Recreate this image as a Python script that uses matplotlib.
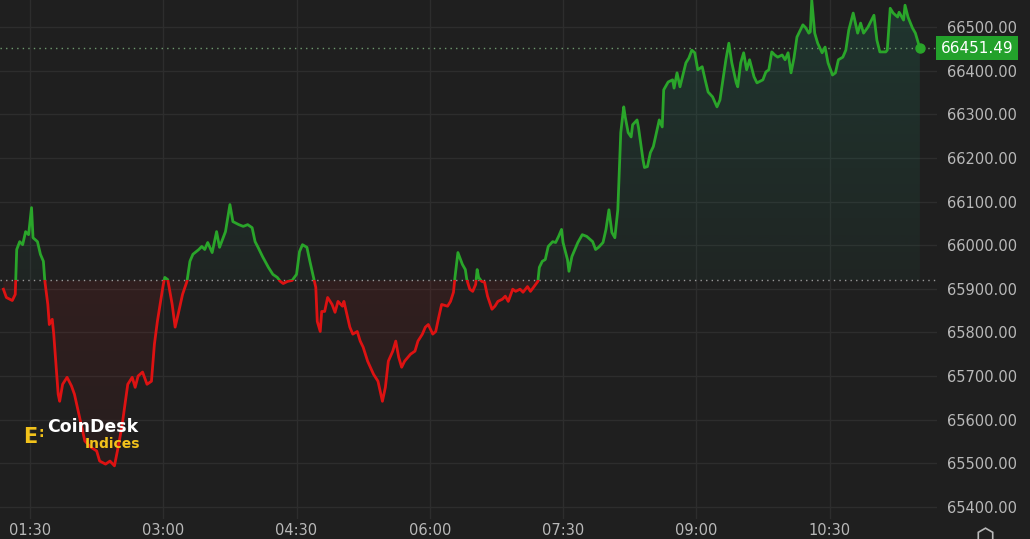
import numpy as np
import matplotlib as mpl
import matplotlib.pyplot as plt
from matplotlib.patches import Rectangle
from matplotlib.path import Path
from matplotlib.ticker import FixedLocator, FuncFormatter

# ── Data: BTC index, minutes since 00:00 and price ─────────────────────────────
minutes = [
    72, 74, 78, 80, 81, 83, 85, 87, 89, 91, 92, 95, 97, 99, 100, 102, 103, 105,
    106, 107, 109, 110, 112, 115, 118, 120, 124, 127, 131, 135, 137, 141, 144,
    147, 149, 152, 156, 159, 161, 163, 166, 169, 172, 174, 176, 180, 181, 183,
    186, 188, 190, 193, 196, 198, 200, 204, 206, 208, 210, 213, 216, 218, 222,
    225, 227, 231, 234, 237, 240, 242, 244, 247, 251, 254, 257, 259, 261, 264,
    267, 270, 272, 274, 277, 279, 281, 283, 284, 286, 287, 289, 291, 294, 296,
    298, 301, 302, 304, 306, 308, 311, 313, 315, 318, 322, 325, 328, 330, 332,
    335, 337, 339, 341, 343, 347, 350, 352, 355, 357, 359, 362, 364, 366, 368,
    372, 374, 376, 377, 379, 382, 384, 385, 387, 389, 391, 392, 393, 395, 397,
    399, 402, 404, 406, 409, 411, 413, 416, 418, 421, 423, 426, 428, 430, 433,
    434, 436, 438, 440, 443, 445, 447, 449, 450, 453, 454, 456, 460, 463, 466,
    470, 472, 474, 477, 479, 481, 483, 485, 487, 489, 491, 492, 494, 496, 497,
    500, 501, 504, 505, 507, 509, 511, 514, 515, 517, 518, 521, 524, 525, 527,
    529, 531, 533, 535, 537, 539, 541, 544, 546, 548, 551, 554, 556, 558, 560,
    562, 564, 567, 568, 570, 572, 574, 576, 579, 581, 585, 587, 589, 591, 593,
    595, 598, 600, 602, 604, 606, 608, 612, 614, 616, 617, 618, 620, 622, 625,
    627, 629, 632, 634, 636, 639, 641, 643, 646, 649, 651, 653, 656, 660, 662,
    664, 668, 669, 671, 673, 676, 677, 680, 681, 683, 686, 688, 691,
]
prices = [
    65899, 65880, 65873, 65887, 65990, 66008, 66001, 66031, 66024, 66086, 66017,
    66008, 65979, 65963, 65917, 65864, 65818, 65830, 65796, 65750, 65658, 65642,
    65681, 65697, 65677, 65658, 65597, 65551, 65537, 65528, 65505, 65498, 65505,
    65494, 65528, 65583, 65681, 65697, 65674, 65700, 65709, 65681, 65688, 65773,
    65825, 65910, 65926, 65921, 65864, 65812, 65841, 65887, 65917, 65963, 65979,
    65990, 65997, 65990, 66006, 65983, 66031, 65995, 66031, 66093, 66054, 66047,
    66043, 66047, 66040, 66008, 65995, 65974, 65949, 65933, 65926, 65917, 65912,
    65917, 65919, 65933, 65985, 66001, 65995, 65963, 65933, 65903, 65825, 65802,
    65848, 65848, 65880, 65864, 65846, 65871, 65860, 65871, 65841, 65812, 65796,
    65802, 65780, 65766, 65734, 65704, 65688, 65642, 65674, 65734, 65757, 65780,
    65743, 65720, 65734, 65750, 65757, 65780, 65796, 65812, 65818, 65796, 65802,
    65834, 65864, 65860, 65871, 65892, 65926, 65983, 65956, 65944, 65921, 65899,
    65894, 65910, 65944, 65926, 65917, 65915, 65883, 65853, 65860, 65871, 65876,
    65883, 65871, 65899, 65894, 65899, 65892, 65905, 65894, 65903, 65917, 65949,
    65963, 65967, 65997, 66008, 66006, 66020, 66036, 66006, 65967, 65940, 65974,
    66006, 66024, 66020, 66008, 65990, 65995, 66006, 66036, 66081, 66029, 66017,
    66081, 66258, 66317, 66294, 66258, 66248, 66276, 66287, 66269, 66196, 66178,
    66180, 66212, 66226, 66271, 66287, 66271, 66356, 66374, 66379, 66360, 66395,
    66363, 66390, 66418, 66429, 66447, 66441, 66402, 66409, 66379, 66351, 66340,
    66317, 66333, 66379, 66425, 66463, 66418, 66372, 66363, 66418, 66441, 66402,
    66425, 66386, 66372, 66379, 66397, 66402, 66443, 66436, 66431, 66436, 66425,
    66441, 66395, 66429, 66477, 66505, 66498, 66486, 66489, 66562, 66486, 66463,
    66441, 66454, 66418, 66390, 66395, 66425, 66431, 66447, 66493, 66532, 66486,
    66509, 66486, 66500, 66527, 66470, 66443, 66443, 66447, 66543, 66532, 66523,
    66534, 66516, 66550, 66523, 66498, 66486, 66451.49,
]
base_price = 65919
last_price = 66451.49
price_ticks = [65400, 65500, 65600, 65700, 65800, 65900, 66000, 66100, 66200,
               66300, 66400, 66500]
time_ticks = [90, 180, 270, 360, 450, 540, 630]

# ── Style ─────────────────────────────────────────────────────────────────────
BG = "#1f1f1f"
GRID = "#2d2d2d"
TXT = "#b8b8b8"
GREEN = "#2aa52a"
RED = "#dd1212"

t = np.array(minutes, dtype=float)
v = np.array(prices, dtype=float)
XMIN, XMAX = 69.7, 702.8
YMIN, YMAX = 65372, 66562

fig = plt.figure(figsize=(10.30, 5.39), dpi=100, facecolor=BG)
ax = fig.add_axes([0.0, 0.037, 0.91, 0.963])
ax.set_facecolor(BG)
for s in ax.spines.values():
    s.set_visible(False)

# grid
ax.set_axisbelow(True)
ax.grid(True, color=GRID, linewidth=1.0)

# gradient fills, clipped to the area between the line and the baseline
def gradient_fill(mask, rgb, a_far, a_near, y0, y1):
    coll = ax.fill_between(t, v, base_price, where=mask, interpolate=True,
                           facecolor="none", edgecolor="none")
    paths = coll.get_paths()
    if not paths:
        return
    clip = Path.make_compound_path(*paths)
    n = 256
    rgba = np.zeros((n, 1, 4))
    rgba[:, 0, :3] = mpl.colors.to_rgb(rgb)
    rgba[:, 0, 3] = np.linspace(a_far, a_near, n)
    im = ax.imshow(rgba, extent=[XMIN, XMAX, y0, y1], origin="lower",
                   aspect="auto", zorder=1, interpolation="bilinear")
    im.set_clip_path(clip, transform=ax.transData)

# green: near line (top) stronger, fading to baseline
gradient_fill(v >= base_price, "#22a07a", 0.05, 0.18, base_price, YMAX)
# red: near baseline stronger, fading downward
gradient_fill(v <= base_price, "#c81818", 0.03, 0.11, YMIN, base_price)

# line, green above the baseline, red below
big = 1e6
for color, y0 in [(GREEN, base_price), (RED, base_price - big)]:
    ln, = ax.plot(t, v, color=color, linewidth=2.0, zorder=3,
                  solid_joinstyle="round")
    ln.set_clip_path(Rectangle((XMIN, y0), XMAX - XMIN, big,
                               transform=ax.transData))

# baseline and last-price dotted lines
ax.axhline(base_price, color="#9a9a9a", linestyle=(0, (1, 3)), linewidth=1.0,
           zorder=2)
ax.axhline(last_price, color="#6f9a6f", linestyle=(0, (1, 3)), linewidth=1.0,
           zorder=2)
ax.plot(t[-1], v[-1], "o", color=GREEN, markersize=6.5, zorder=4)

ax.set_xlim(XMIN, XMAX)
ax.set_ylim(YMIN, YMAX)

# axes ticks
ax.yaxis.tick_right()
ax.yaxis.set_major_locator(FixedLocator(price_ticks))
ax.yaxis.set_major_formatter(FuncFormatter(lambda y, _: f"{y:.2f}"))
ax.xaxis.set_major_locator(FixedLocator(time_ticks))
ax.xaxis.set_major_formatter(
    FuncFormatter(lambda m, _: f"{int(m) // 60:02d}:{int(m) % 60:02d}"))
ax.tick_params(axis="both", length=0, colors=TXT, labelsize=10.5)
ax.tick_params(axis="y", pad=7)
ax.tick_params(axis="x", pad=3)

# last price tag
ax.text(1.004, last_price, f"{last_price:.2f}", transform=ax.get_yaxis_transform(),
        ha="left", va="center", color="white", fontsize=11, zorder=6,
        bbox=dict(boxstyle="square,pad=0.3", fc="#23a12b", ec="none"),
        clip_on=False)

# CoinDesk Indices logo
YEL = "#f2c21b"
fig.text(0.022, 0.190, "E", color=YEL, fontsize=15, fontweight="bold",
         ha="left", va="center")
fig.text(0.037, 0.196, ":", color=YEL, fontsize=10, fontweight="bold",
         ha="left", va="center")
fig.text(0.046, 0.208, "CoinDesk", color="white", fontsize=12.5,
         fontweight="bold", ha="left", va="center")
fig.text(0.082, 0.177, "Indices", color=YEL, fontsize=10, fontweight="bold",
         ha="left", va="center")

# settings icon, bottom right (cut by the edge)
fig.lines.append(mpl.lines.Line2D([0.956], [0.006], marker="h", markersize=12,
                                  markerfacecolor="none", markeredgecolor=TXT,
                                  markeredgewidth=1.2,
                                  transform=fig.transFigure))

fig.savefig("out.png", dpi=100, facecolor=BG)
